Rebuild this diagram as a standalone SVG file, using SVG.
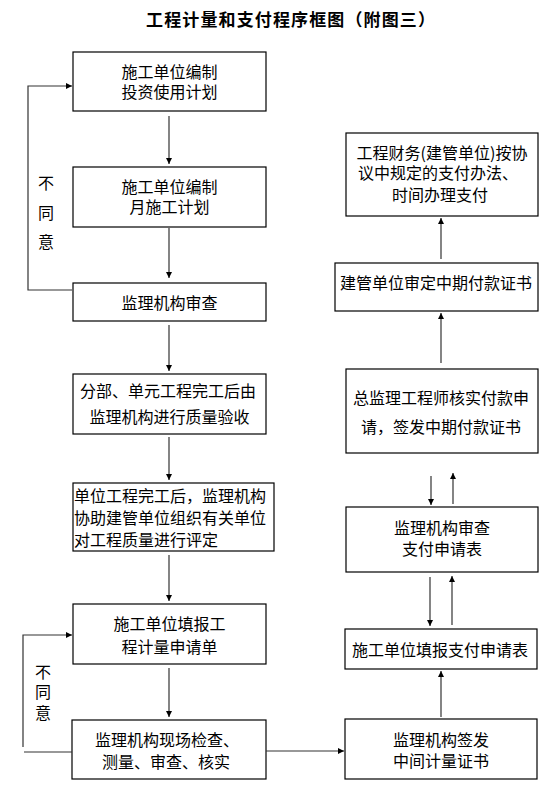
<svg xmlns="http://www.w3.org/2000/svg" width="559" height="791" viewBox="0 0 559 791">
<style>
.box{fill:#fff;stroke:#000;stroke-width:1.2}
text{font-family:"Noto Sans CJK SC","Noto Sans CJK JP",sans-serif;font-size:16px;fill:#000}
.c{text-anchor:middle}
.title{font-size:17px;font-weight:bold}
.ln{fill:none;stroke:#333;stroke-width:1.2}
</style>
<defs>
<marker id="ah" markerUnits="userSpaceOnUse" markerWidth="7" markerHeight="6" refX="6" refY="3" orient="auto">
<path d="M0,0 L6,3 L0,6 z" fill="#000"/>
</marker>
</defs>
<rect width="559" height="791" fill="#fff"/>
<text class="title" x="146" y="26" textLength="289" lengthAdjust="spacing">工程计量和支付程序框图（附图三）</text>

<g id="n1"><rect class="box" x="73" y="52" width="193" height="59"/><text class="c"><tspan x="169.5" y="78">施工单位编制</tspan><tspan x="169.5" y="98">投资使用计划</tspan></text></g>
<g id="n2"><rect class="box" x="73" y="167" width="193" height="60"/><text class="c"><tspan x="169.5" y="193">施工单位编制</tspan><tspan x="169.5" y="213">月施工计划</tspan></text></g>
<g id="n3"><rect class="box" x="73" y="283" width="193" height="38"/><text class="c" x="169.5" y="309">监理机构审查</text></g>
<g id="n4"><rect class="box" x="73" y="374" width="193" height="60"/><text class="c"><tspan x="168" y="397">分部、单元工程完工后由</tspan><tspan x="169.5" y="423">监理机构进行质量验收</tspan></text></g>
<g id="n5"><rect class="box" x="73" y="483" width="201" height="68"/><text><tspan x="74" y="502">单位工程完工后，监理机构</tspan><tspan x="74" y="524">协助建管单位组织有关单位</tspan><tspan x="74" y="546">对工程质量进行评定</tspan></text></g>
<g id="n6"><rect class="box" x="73" y="604" width="193" height="60"/><text class="c"><tspan x="169.5" y="630">施工单位填报工</tspan><tspan x="169.5" y="653">程计量申请单</tspan></text></g>
<g id="n7"><rect class="box" x="72" y="720" width="194" height="59"/><text><tspan x="95" y="746">监理机构现场检查、</tspan><tspan x="102" y="768">测量、审查、核实</tspan></text></g>
<g id="n8"><rect class="box" x="345" y="719" width="192" height="60"/><text class="c"><tspan x="441" y="746">监理机构签发</tspan><tspan x="441" y="767">中间计量证书</tspan></text></g>
<g id="n9"><rect class="box" x="345" y="629" width="192" height="40"/><text class="c" x="440" y="656">施工单位填报支付申请表</text></g>
<g id="n10"><rect class="box" x="346" y="507" width="192" height="65"/><text class="c"><tspan x="442" y="534">监理机构审查</tspan><tspan x="442" y="555">支付申请表</tspan></text></g>
<g id="n11"><rect class="box" x="346" y="369" width="192" height="84"/><text class="c"><tspan x="441" y="404">总监理工程师核实付款申</tspan><tspan x="441" y="433">请，签发中期付款证书</tspan></text></g>
<g id="n12"><rect class="box" x="335" y="263" width="203" height="48"/><text class="c" x="436" y="289">建管单位审定中期付款证书</text></g>
<g id="n13"><rect class="box" x="346" y="133" width="192" height="83"/><text class="c"><tspan x="442" y="159">工程财务(建管单位)按协</tspan><tspan x="438" y="179">议中规定的支付办法、</tspan><tspan x="440" y="201">时间办理支付</tspan></text></g>

<g id="labels">
<text class="c"><tspan x="46" y="189">不</tspan><tspan x="46" y="219">同</tspan><tspan x="46" y="248">意</tspan></text>
<text class="c"><tspan x="43" y="678">不</tspan><tspan x="43" y="698">同</tspan><tspan x="43" y="719">意</tspan></text>
</g>

<g id="connectors">
<line class="ln" x1="169" y1="116" x2="169" y2="164" marker-end="url(#ah)"/>
<line class="ln" x1="169" y1="228" x2="169" y2="278" marker-end="url(#ah)"/>
<line class="ln" x1="169" y1="325" x2="169" y2="371" marker-end="url(#ah)"/>
<line class="ln" x1="169" y1="437" x2="169" y2="480" marker-end="url(#ah)"/>
<line class="ln" x1="169" y1="555" x2="169" y2="601" marker-end="url(#ah)"/>
<line class="ln" x1="169" y1="668" x2="169" y2="717" marker-end="url(#ah)"/>
<polyline class="ln" points="72,290 28,290 28,86 72,86" marker-end="url(#ah)"/>
<polyline class="ln" points="23,747 23,635 72,635" marker-end="url(#ah)"/>
<line class="ln" x1="24" y1="752" x2="72" y2="752"/>
<line class="ln" x1="266" y1="751" x2="344" y2="751" marker-end="url(#ah)"/>
<line class="ln" x1="441" y1="717" x2="441" y2="671" marker-end="url(#ah)"/>
<line class="ln" x1="430" y1="577" x2="430" y2="626" marker-end="url(#ah)"/>
<line class="ln" x1="452" y1="625" x2="452" y2="576" marker-end="url(#ah)"/>
<line class="ln" x1="431" y1="476" x2="431" y2="505" marker-end="url(#ah)"/>
<line class="ln" x1="453" y1="504" x2="453" y2="473" marker-end="url(#ah)"/>
<line class="ln" x1="441" y1="363" x2="441" y2="313" marker-end="url(#ah)"/>
<line class="ln" x1="441" y1="259" x2="441" y2="218" marker-end="url(#ah)"/>
</g>
</svg>
